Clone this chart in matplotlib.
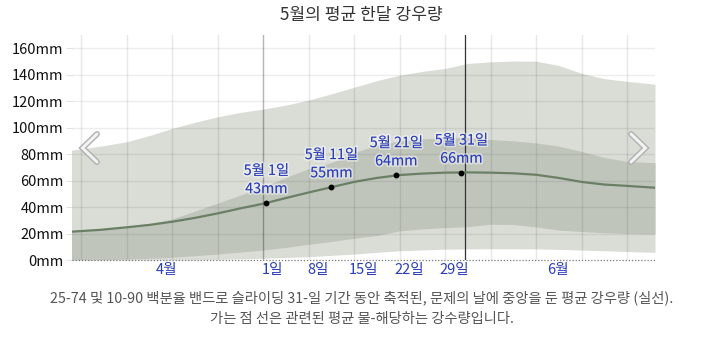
import matplotlib
matplotlib.use("Agg")
import matplotlib.pyplot as plt
from matplotlib.lines import Line2D
import matplotlib.patheffects as pe

plt.rcParams['font.family'] = ['Noto Sans CJK KR', 'DejaVu Sans']

# Day offsets relative to the start of May 1 (0 = 00:00 May 1)
days = [-29.5, -25, -21, -17.5, -14, -10.5, -7, -3.5, 0, 3.5, 7, 10.5, 14,
        17.5, 21, 24.5, 28, 31.5, 35, 38.5, 42, 45.5, 49, 52.5, 56, 60.3]

# Sliding 31-day rainfall (mm): median and percentile bands
median = [21.4, 22.8, 24.7, 26.5, 28.9, 31.8, 35.2, 39.0, 42.5, 46.8, 51.0,
          55.0, 59.0, 62.0, 64.2, 65.3, 66.0, 66.2, 66.0, 65.5, 64.4, 62.0,
          59.0, 57.0, 56.0, 54.6]
p90 = [83, 86, 89.3, 94, 99.4, 104, 108.2, 111.5, 114, 117, 120.8, 125.5,
       130.5, 135.5, 139.6, 142.5, 144.7, 148.5, 149.7, 150.3, 150.2, 147,
       141, 137, 135, 132.8]
p75 = [22, 23.5, 25.5, 27.5, 31, 37, 43, 49, 55, 62.5, 69, 73.5, 81, 87, 90,
       91.5, 92.3, 92.5, 91, 90, 88.5, 86, 82, 77.5, 74.5, 73.5]
p25 = [0, 0.2, 0.7, 1.3, 2, 3.2, 4.5, 6, 7.5, 9.5, 11.8, 14, 16.4, 18.5, 22,
       23.5, 24.5, 25.2, 27, 26.8, 25, 22.6, 21.5, 20.6, 20, 19.6]
p10 = [0, 0, 0, 0, 0, 0.2, 0.5, 0.9, 1.3, 1.9, 2.5, 3.5, 4.5, 5.8, 7, 7.6,
       8.2, 8.4, 8.5, 8.5, 8.4, 8, 7.5, 7, 6.4, 5.8]

# Labelled points on the median curve
point_days = [0.5, 10.5, 20.5, 30.5]
point_names = ["5월 1일", "5월 11일", "5월 21일", "5월 31일"]
point_values = [43, 55, 64, 66]

# Axis ticks
week_days = [-28, -21, -14, -7, 0, 7, 14, 21, 28, 35, 42, 49, 56]
day_tick_days = [0, 7, 14, 21, 28]
day_tick_labels = ["1일", "8일", "15일", "22일", "29일"]
month_tick_days = [-14.9, 45.3]
month_tick_labels = ["4월", "6월"]
y_ticks = [0, 20, 40, 60, 80, 100, 120, 140, 160]

BLUE = '#2a3cb8'

fig = plt.figure(figsize=(7.02, 3.5), dpi=100)
ax = fig.add_axes([72 / 702, 1 - 260 / 350, 583 / 702, 225 / 350])

ax.fill_between(days, p10, p90, color='#d9ddd6', lw=0, zorder=1)
ax.fill_between(days, p25, p75, color='#c0c5bc', lw=0, zorder=2)

# grid
for d in week_days:
    ax.axvline(d, color='black', alpha=0.09, lw=1, zorder=3)
ax.axvline(0, color='black', alpha=0.22, lw=1, zorder=3)
ax.axvline(31, color='#333333', lw=0.9, zorder=3)
for v in y_ticks[1:]:
    ax.axhline(v, color='black', alpha=0.07, lw=1, zorder=3)

ax.plot(days, median, color='#6a7f65', lw=1.6, zorder=5,
        solid_capstyle='round')

# baseline
ax.axhline(0, color='#777777', lw=0.9, ls=(0, (1, 1.5)), zorder=6,
           clip_on=False)

halo = [pe.withStroke(linewidth=2.5, foreground=(1, 1, 1, 0.45))]
for d, name, val in zip(point_days, point_names, point_values):
    ax.plot([d], [val], 'o', color='black', ms=3.2, zorder=7)
    ax.annotate(f"{name}\n{val}mm", (d, val), xytext=(0, 5),
                textcoords='offset points', ha='center', va='bottom',
                color=BLUE, fontsize=10.3, linespacing=1.38, zorder=8,
                path_effects=halo)

ax.set_xlim(-29.4, 60.3)
ax.set_ylim(0, 170)

ax.set_yticks(y_ticks)
ax.set_yticklabels([f"{v}mm" for v in y_ticks], fontsize=10.5,
                   color='#111111')
ax.tick_params(axis='y', length=4, color='#e2e2e2', pad=2)

xt = [d + 1.45 for d in day_tick_days] + month_tick_days
xl = day_tick_labels + month_tick_labels
ax.set_xticks(xt)
ax.set_xticklabels(xl, fontsize=10.5, color=BLUE)
ax.tick_params(axis='x', length=0, pad=2.5)

for s in ax.spines.values():
    s.set_visible(False)

# navigation chevrons
def chevron(xs, ys):
    xf = [x / 702 for x in xs]
    yf = [1 - y / 350 for y in ys]
    fig.add_artist(Line2D(xf, yf, color='#b0b0b0', lw=4.2,
                          solid_capstyle='round', solid_joinstyle='miter',
                          transform=fig.transFigure, zorder=20))
    fig.add_artist(Line2D(xf, yf, color='#f2f2f2', lw=2.2,
                          solid_capstyle='round', solid_joinstyle='miter',
                          transform=fig.transFigure, zorder=21))

chevron([97, 82.5, 97], [134, 148, 162])
chevron([631, 645.5, 631], [134, 148, 162])

fig.text(361 / 702, 1 - 15 / 350, "5월의 평균 한달 강우량", ha='center',
         va='center', fontsize=12.3, color='#333333', fontweight='medium')
fig.text(362 / 702, 1 - 298 / 350,
         "25-74 및 10-90 백분율 밴드로 슬라이딩 31-일 기간 동안 축적된, "
         "문제의 날에 중앙을 둔 평균 강우량 (실선).",
         ha='center', va='center', fontsize=10.3, color='#555555')
fig.text(362 / 702, 1 - 319 / 350,
         "가는 점 선은 관련된 평균 물-해당하는 강수량입니다.",
         ha='center', va='center', fontsize=10.3, color='#555555')

fig.savefig("out.png", dpi=100)
